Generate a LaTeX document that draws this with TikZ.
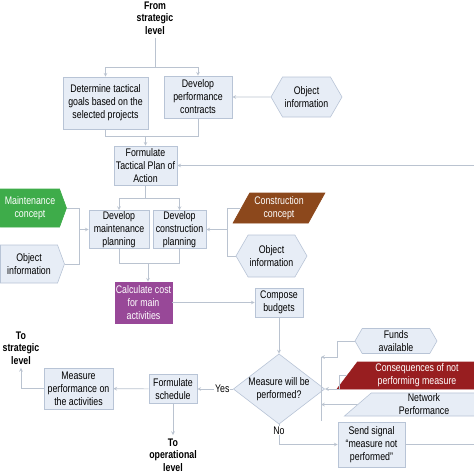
\documentclass[tikz,border=0pt]{standalone}
\usepackage{fontspec}
\setmainfont{Liberation Sans}[FakeStretch=0.8]
\usepackage{tikz}
\usetikzlibrary{shapes.geometric,shapes.symbols}

\definecolor{boxfill}{RGB}{231,237,246}
\definecolor{boxline}{RGB}{184,196,214}
\definecolor{wire}{RGB}{186,195,208}
\definecolor{greenfill}{RGB}{62,172,74}
\definecolor{brownfill}{RGB}{140,72,28}
\definecolor{purplefill}{RGB}{152,72,152}
\definecolor{redfill}{RGB}{152,30,32}

\begin{document}
\begin{tikzpicture}[x=1pt, y=-1pt, font=\fontsize{11}{13}\selectfont,
    hexa/.style={signal, signal to=east and west, signal pointer angle=120},
    tag/.style={signal, signal to=east, signal pointer angle=140},
    slant/.style={trapezium, trapezium left angle=60, trapezium right angle=120, trapezium stretches=true},
    lbl/.style={draw=none, fill=none, font=\fontsize{11}{12.5}\selectfont\bfseries}]
      \useasboundingbox (0,0) rectangle (474,474);

      \begin{scope}[every node/.style={rectangle, draw=boxline, fill=boxfill, inner sep=1pt, align=center, line width=0.6pt}]
        \node [minimum width=85, minimum height=52] (1) at (105.5,103) {Determine tactical\\goals based on the\\selected projects};
        \node [minimum width=68, minimum height=42] (2) at (198,97) {Develop\\performance\\contracts};
        \node [hexa, minimum width=71, minimum height=40] (3) at (306.5,97) {Object\\information};
        \node [minimum width=63, minimum height=39] (4) at (145.5,165.5) {Formulate\\Tactical Plan of\\Action};
        \node [tag, draw=greenfill, fill=greenfill, text=white, minimum width=66, minimum height=38] (5) at (30,208) {Maintenance\\concept};
        \node [tag, minimum width=64, minimum height=38] (6) at (29,264) {Object\\information};
        \node [minimum width=60, minimum height=37] (7) at (119,229.5) {Develop\\maintenance\\planning};
        \node [minimum width=53, minimum height=37] (8) at (179.5,229.5) {Develop\\construction\\planning};
        \node [slant, draw=brownfill, fill=brownfill, text=white, minimum width=92, minimum height=30] (9) at (279,208) {Construction\\concept};
        \node [hexa, minimum width=71, minimum height=42] (10) at (271.5,256) {Object\\information};
        \node [draw=purplefill, fill=purplefill, text=white, minimum width=57, minimum height=41] (11) at (143.5,302.5) {Calculate cost\\for main\\activities};
        \node [minimum width=48, minimum height=29] (12) at (279,302.5) {Compose\\budgets};
        \node [diamond, aspect=1.3, inner sep=0pt, minimum width=85, minimum height=66] (13) at (279,389) {Measure will be\\performed?};
        \node [minimum width=48, minimum height=29] (14) at (173,389) {Formulate\\schedule};
        \node [minimum width=69, minimum height=41] (15) at (78.5,388.5) {Measure\\performance on\\the activities};
        \node [hexa, minimum width=82, minimum height=25] (18) at (396,341) {Funds\\available};
        \node [slant, draw=redfill, fill=redfill, text=white, minimum width=160, minimum height=27] (19) at (417,375.5) {Consequences of not\\performing measure};
        \node [slant, minimum width=160, minimum height=21] (20) at (424,404.5) {Network\\Performance};
        \node [minimum width=67, minimum height=45] (21) at (371.5,444.5) {Send signal\\“measure not\\performed”};
      \end{scope}

      \node [lbl, align=center] (0) at (155,18) {From\\strategic\\level};
      \node [lbl, align=center] (16) at (21,348) {To\\strategic\\level};
      \node [lbl, align=center] (17) at (173,455) {To\\operational\\level};

      \coordinate (s1) at (155,67);
      \coordinate (s2) at (145.5,136);
      \coordinate (s3) at (145.5,198);
      \coordinate (s4) at (79,229.5);
      \coordinate (s5) at (227,229.5);
      \coordinate (s6) at (148,263);
      \coordinate (e1) at (474,165.5);
      \coordinate (e2) at (474,444.5);
      \coordinate (c1) at (321,357);
      \coordinate (c3) at (321,404.5);
      \coordinate (c4) at (321,421);

      \begin{scope}[->,>=stealth, draw=wire, line width=0.7pt]
        \draw [-] (0) -- (s1);
        \draw (s1) -| (1);
        \draw (s1) -| (2);
        \draw (3) -- (2);
        \draw [-] (1) |- (s2);
        \draw [-] (2) |- (s2);
        \draw (s2) -- (4);
        \draw (e1) -- (4);
        \draw [-] (4) -- (s3);
        \draw (s3) -| (7);
        \draw (s3) -| (8);
        \draw [-] (5) -| (s4);
        \draw [-] (6) -| (s4);
        \draw (s4) -- (7);
        \draw [-] (9) -| (s5);
        \draw [-] (10) -| (s5);
        \draw (s5) -- (8);
        \draw [-] (7) |- (s6);
        \draw [-] (8) |- (s6);
        \draw (s6) -- (s6 |- 11.north);
        \draw (11) -- (12);
        \draw (12) -- (13);
        \draw (13) -- node [pos=0.3, fill=white, inner sep=1pt] {Yes} (14);
        \draw (14) -- (15);
        \draw (15) -| (16);
        \draw (14) -- (17);
        \draw (13) |- node [pos=0.15, fill=white, inner sep=1pt] {No} (21);
        \draw [-] (21) -- (e2);
        % inputs of the decision
        \draw (18.west) -- ++(-17,0) |- (c1);
        \draw (19.west) -- ++(-8,0) |- (13.east);
        \draw (20) -- (c3);
        \draw [-] (c1) -- (c4);
      \end{scope}
   \end{tikzpicture}
\end{document}
